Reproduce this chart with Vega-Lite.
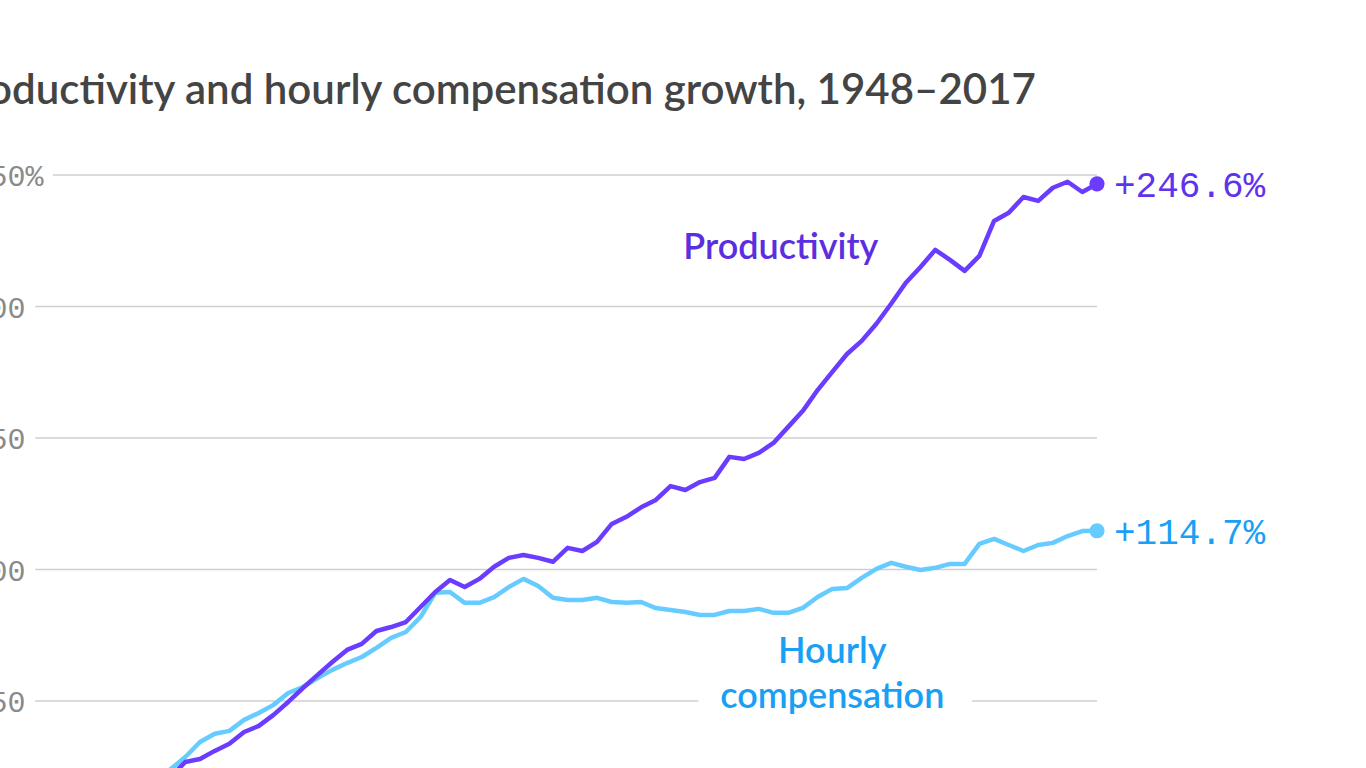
{
  "$schema": "https://vega.github.io/schema/vega-lite/v6.json",
  "width": 1097,
  "height": 768,
  "autosize": {"type": "none"},
  "padding": {"left": 0, "top": 0, "right": 269, "bottom": 0},
  "background": "white",
  "config": {"view": {"stroke": null}},
  "title": {
    "text": "Productivity and hourly compensation growth, 1948–2017",
    "anchor": "start",
    "frame": "group",
    "orient": "top",
    "offset": -103,
    "baseline": "alphabetic",
    "dx": -52,
    "dy": 43,
    "font": "Lato",
    "fontSize": 42,
    "fontWeight": 600,
    "color": "#444444"
  },
  "datasets": {
    "growth": [
      {"year": 1948, "productivity": 0, "compensation": 0},
      {"year": 1949, "productivity": 1.5, "compensation": 6.3},
      {"year": 1950, "productivity": 9.3, "compensation": 10.5},
      {"year": 1951, "productivity": 12.1, "compensation": 11.8},
      {"year": 1952, "productivity": 15.3, "compensation": 15.0},
      {"year": 1953, "productivity": 18.8, "compensation": 20.8},
      {"year": 1954, "productivity": 21.0, "compensation": 24.0},
      {"year": 1955, "productivity": 26.8, "compensation": 28.7},
      {"year": 1956, "productivity": 27.9, "compensation": 34.4},
      {"year": 1957, "productivity": 31.0, "compensation": 37.5},
      {"year": 1958, "productivity": 33.7, "compensation": 38.6},
      {"year": 1959, "productivity": 38.2, "compensation": 42.8},
      {"year": 1960, "productivity": 40.5, "compensation": 45.4},
      {"year": 1961, "productivity": 44.7, "compensation": 48.5},
      {"year": 1962, "productivity": 49.6, "compensation": 53.0},
      {"year": 1963, "productivity": 54.9, "compensation": 55.3},
      {"year": 1964, "productivity": 59.9, "compensation": 58.7},
      {"year": 1965, "productivity": 64.8, "compensation": 61.8},
      {"year": 1966, "productivity": 69.4, "compensation": 64.4},
      {"year": 1967, "productivity": 71.7, "compensation": 66.7},
      {"year": 1968, "productivity": 76.6, "compensation": 70.2},
      {"year": 1969, "productivity": 78.1, "compensation": 74.0},
      {"year": 1970, "productivity": 80.0, "compensation": 76.2},
      {"year": 1971, "productivity": 85.7, "compensation": 81.9},
      {"year": 1972, "productivity": 91.4, "compensation": 91.1},
      {"year": 1973, "productivity": 96.0, "compensation": 91.4},
      {"year": 1974, "productivity": 93.3, "compensation": 87.3},
      {"year": 1975, "productivity": 96.4, "compensation": 87.3},
      {"year": 1976, "productivity": 101.0, "compensation": 89.5},
      {"year": 1977, "productivity": 104.4, "compensation": 93.3},
      {"year": 1978, "productivity": 105.5, "compensation": 96.4},
      {"year": 1979, "productivity": 104.4, "compensation": 93.7},
      {"year": 1980, "productivity": 102.9, "compensation": 89.2},
      {"year": 1981, "productivity": 108.2, "compensation": 88.4},
      {"year": 1982, "productivity": 107.0, "compensation": 88.4},
      {"year": 1983, "productivity": 110.5, "compensation": 89.2},
      {"year": 1984, "productivity": 117.3, "compensation": 87.6},
      {"year": 1985, "productivity": 120.0, "compensation": 87.3},
      {"year": 1986, "productivity": 123.6, "compensation": 87.6},
      {"year": 1987, "productivity": 126.4, "compensation": 85.3},
      {"year": 1988, "productivity": 131.7, "compensation": 84.6},
      {"year": 1989, "productivity": 130.2, "compensation": 83.8},
      {"year": 1990, "productivity": 133.2, "compensation": 82.7},
      {"year": 1991, "productivity": 134.8, "compensation": 82.7},
      {"year": 1992, "productivity": 142.8, "compensation": 84.2},
      {"year": 1993, "productivity": 142.0, "compensation": 84.2},
      {"year": 1994, "productivity": 144.3, "compensation": 85.0},
      {"year": 1995, "productivity": 148.1, "compensation": 83.5},
      {"year": 1996, "productivity": 154.2, "compensation": 83.5},
      {"year": 1997, "productivity": 160.3, "compensation": 85.4},
      {"year": 1998, "productivity": 168.2, "compensation": 89.5},
      {"year": 1999, "productivity": 175.1, "compensation": 92.6},
      {"year": 2000, "productivity": 181.9, "compensation": 92.9},
      {"year": 2001, "productivity": 186.9, "compensation": 96.8},
      {"year": 2002, "productivity": 193.4, "compensation": 100.2},
      {"year": 2003, "productivity": 201.0, "compensation": 102.5},
      {"year": 2004, "productivity": 209.0, "compensation": 101.0},
      {"year": 2005, "productivity": 215.0, "compensation": 99.8},
      {"year": 2006, "productivity": 221.5, "compensation": 100.6},
      {"year": 2007, "productivity": 217.7, "compensation": 102.1},
      {"year": 2008, "productivity": 213.5, "compensation": 102.1},
      {"year": 2009, "productivity": 219.2, "compensation": 109.7},
      {"year": 2010, "productivity": 232.5, "compensation": 111.6},
      {"year": 2011, "productivity": 235.6, "compensation": 109.3},
      {"year": 2012, "productivity": 241.6, "compensation": 107.0},
      {"year": 2013, "productivity": 240.1, "compensation": 109.3},
      {"year": 2014, "productivity": 245.1, "compensation": 110.1},
      {"year": 2015, "productivity": 247.4, "compensation": 112.7},
      {"year": 2016, "productivity": 243.5, "compensation": 114.6},
      {"year": 2017, "productivity": 246.6, "compensation": 114.7}
    ],
    "grid": [
      {"value": 250, "from": 1946.0, "to": 2017},
      {"value": 200, "from": 1944.8, "to": 2017},
      {"value": 150, "from": 1944.8, "to": 2017},
      {"value": 100, "from": 1944.8, "to": 2017},
      {"value": 50, "from": 1944.8, "to": 1989.9},
      {"value": 50, "from": 2008.5, "to": 2017}
    ],
    "ends": [
      {"series": "Productivity", "year": 2017, "value": 246.6, "label": "+246.6%"},
      {"series": "Hourly compensation", "year": 2017, "value": 114.7, "label": "+114.7%"}
    ],
    "notes": [
      {"series": "Productivity", "year": 1995.5, "value": 218.1, "text": ["Productivity"]},
      {"series": "Hourly compensation", "year": 1999.0, "value": 64.4, "text": ["Hourly", "compensation"]}
    ]
  },
  "layer": [
    {
      "data": {"name": "grid"},
      "mark": {"type": "rule", "stroke": "#cfcfcf", "strokeWidth": 1.5},
      "encoding": {
        "x": {"field": "from", "type": "quantitative", "scale": {"domain": [1942.4, 2017], "nice": false, "zero": false}, "axis": null},
        "x2": {"field": "to"},
        "y": {
          "field": "value",
          "type": "quantitative",
          "scale": {"domain": [24.5, 316.5], "nice": false, "zero": false},
          "axis": {
            "orient": "left",
            "values": [50, 100, 150, 200, 250],
            "grid": false,
            "domain": false,
            "ticks": false,
            "tickSize": 0,
            "labelAlign": "right",
            "labelPadding": {"condition": {"test": "datum.value == 250", "value": -43}, "value": -25},
            "labelFont": "Liberation Mono",
            "labelFontSize": 30,
            "labelColor": "#8a8a8a",
            "labelBaseline": "middle",
            "labelOffset": 2,
            "labelExpr": "datum.value == 250 ? '250%' : datum.label",
            "title": null
          }
        }
      }
    },
    {
      "data": {"name": "growth"},
      "mark": {"type": "line", "stroke": "#66ccff", "strokeWidth": 4.5, "clip": true, "strokeJoin": "round"},
      "encoding": {
        "x": {"field": "year", "type": "quantitative"},
        "y": {"field": "compensation", "type": "quantitative"}
      }
    },
    {
      "data": {"name": "growth"},
      "mark": {"type": "line", "stroke": "#6a3cff", "strokeWidth": 4.5, "clip": true, "strokeJoin": "round"},
      "encoding": {
        "x": {"field": "year", "type": "quantitative"},
        "y": {"field": "productivity", "type": "quantitative"}
      }
    },
    {
      "data": {"name": "ends"},
      "mark": {"type": "point", "filled": true, "opacity": 1, "size": 230, "shape": "circle"},
      "encoding": {
        "x": {"field": "year", "type": "quantitative"},
        "y": {"field": "value", "type": "quantitative"},
        "color": {
          "field": "series",
          "type": "nominal",
          "scale": {"domain": ["Productivity", "Hourly compensation"], "range": ["#6a3cff", "#66ccff"]},
          "legend": null
        }
      }
    },
    {
      "data": {"name": "ends"},
      "mark": {"type": "text", "align": "left", "baseline": "middle", "dx": 17, "dy": 2, "font": "Liberation Mono", "fontSize": 36},
      "encoding": {
        "x": {"field": "year", "type": "quantitative"},
        "y": {"field": "value", "type": "quantitative"},
        "text": {"field": "label"},
        "color": {
          "field": "series",
          "type": "nominal",
          "scale": {"domain": ["Productivity", "Hourly compensation"], "range": ["#5f33ee", "#1a9ff5"]},
          "legend": null
        }
      }
    },
    {
      "data": {"name": "notes"},
      "mark": {"type": "text", "align": "center", "baseline": "alphabetic", "font": "Lato", "fontSize": 36, "fontWeight": 600, "lineHeight": 45},
      "encoding": {
        "x": {"field": "year", "type": "quantitative"},
        "y": {"field": "value", "type": "quantitative"},
        "text": {"field": "text"},
        "color": {
          "field": "series",
          "type": "nominal",
          "scale": {"domain": ["Productivity", "Hourly compensation"], "range": ["#5b2fe0", "#1a9ff5"]},
          "legend": null
        }
      }
    }
  ],
  "resolve": {"scale": {"color": "independent"}}
}
